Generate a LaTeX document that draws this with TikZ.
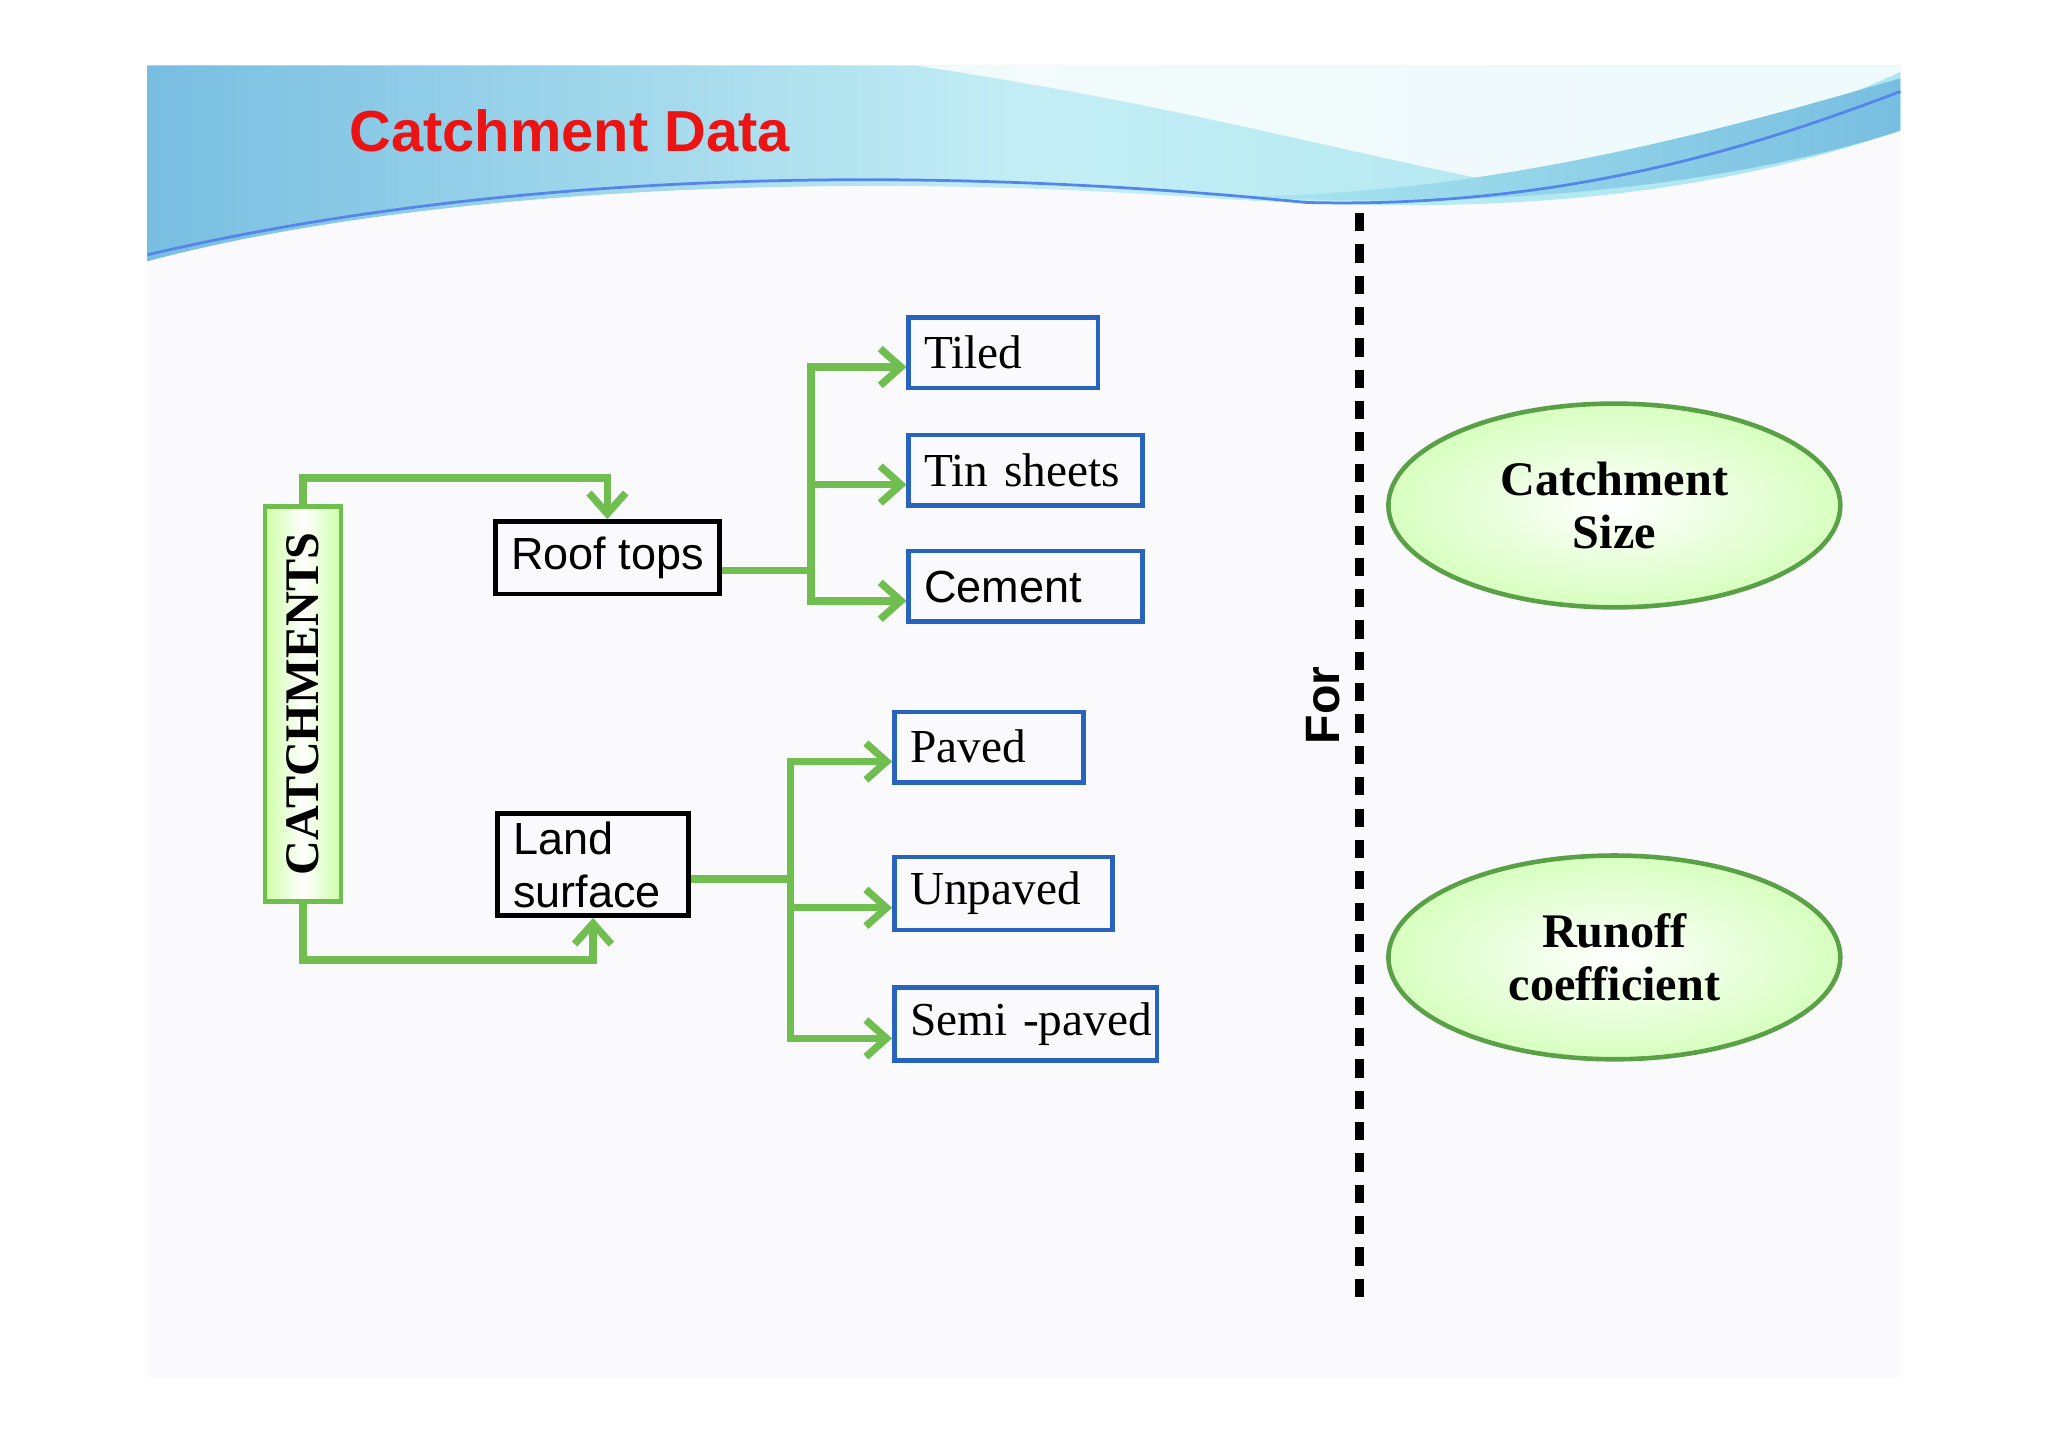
\documentclass[tikz,border=0pt]{standalone}
\usepackage{fontspec}
\setmainfont{Liberation Serif}
\setsansfont{Liberation Sans}
\usetikzlibrary{positioning,arrows.meta,shapes.geometric}
\definecolor{linkgreen}{RGB}{112,190,80}
\definecolor{boxblue}{RGB}{40,100,190}
\definecolor{ovalgreen}{RGB}{90,160,70}
\definecolor{slidebg}{RGB}{250,250,253}
\definecolor{titlered}{RGB}{235,20,20}
\definecolor{wavedeep}{RGB}{120,190,225}
\definecolor{wavelight}{RGB}{170,230,240}
\newlength{\px}
\setlength{\px}{0.01cm}
\tikzset{%
	leaf/.style={
		draw=boxblue,
		line width=1pt,
		rectangle,
		anchor=west,
		inner xsep=12\px,
		text width=#1\px,
		align=left,
		minimum height=54\px,
		text height=7pt,
		font=\fontsize{10.3}{12}\selectfont
	},
	group/.style={
		draw=black,
		line width=1pt,
		rectangle,
		inner xsep=12\px,
		font=\sffamily\fontsize{9.8}{11.5}\selectfont,
		align=left
	},
	oval/.style={
		ellipse,
		draw=ovalgreen,
		line width=1pt,
		minimum width=346\px,
		minimum height=156\px,
		inner color=white,
		outer color=green!50!lime!25,
		font=\bfseries\fontsize{10.5}{11.5}\selectfont,
		align=center
	},
	link/.style={ draw=linkgreen, line width=1.6pt, ->, >={Straight Barb[length=4.5pt,width=8pt]} },
}
\begin{document}
\begin{tikzpicture}[x=0.01cm, y=-0.01cm]
\useasboundingbox (0,0) rectangle (1568,1108);
\fill[white] (0,0) rectangle (1568,1108);
\fill[slidebg] (113,50) rectangle (1455,1055);

% header wave
\shade[left color=wavedeep, right color=wavelight, middle color=wavelight!70]
	(113,50) -- (1455,50) -- (1455,100) .. controls (1250,170) and (1050,160) .. (900,150)
	.. controls (600,130) and (300,150) .. (113,200) -- cycle;
\fill[white, opacity=0.8] (700,50) .. controls (900,80) and (1000,110) .. (1150,140)
	.. controls (1300,120) and (1400,80) .. (1455,55) -- (1455,50) -- cycle;
\shade[left color=wavelight, right color=wavedeep] (950,150) .. controls (1150,150) and (1350,90) .. (1455,60)
	-- (1455,100) .. controls (1300,150) and (1100,160) .. (950,150);
\draw[wavedeep!70!blue, line width=0.6pt] (113,195) .. controls (350,140) and (650,120) .. (1000,155)
	.. controls (1200,160) and (1350,110) .. (1455,70);
\node[anchor=west, text=titlered, font=\sffamily\bfseries\fontsize{12.6}{13}\selectfont] (title) at (255,100) {Catchment Data};

% main boxes
\node[draw=linkgreen, line width=1pt, left color=green!40!lime!35, right color=green!40!lime!35, middle color=white,
	minimum width=302\px, minimum height=58\px, inner sep=0pt, rotate=90, font=\bfseries\fontsize{10.5}{12}\selectfont] (catch) at (232,539) {CATCHMENTS};
\node[group, minimum width=168\px, minimum height=54\px] (roof) at (465,427) {Roof tops};
\node[group, text width=122\px, minimum height=78\px, inner ysep=1pt] (land) at (454,662) {Land\\surface};

% leaves
\node[leaf=121] (tiled) at (694,270) {Tiled};
\node[leaf=155] (tin) at (694,360) {Tin sheets};
\node[leaf=155, font=\sffamily\fontsize{9.8}{12}\selectfont] (cement) at (694,449) {Cement};
\node[leaf=121] (paved) at (683,572) {Paved};
\node[leaf=143] (unpaved) at (683,684) {Unpaved};
\node[leaf=177] (semi) at (683,784) {\mbox{Semi -paved}};

% connections
\draw[link] (catch.east) |- (465,366) -- (roof.north);
\draw[link] (catch.west) |- (454,735) -- (land.south);
\draw[link, -] ([yshift=-10\px]roof.east) -- (621,437);
\foreach \n in {tiled,tin,cement}
	\draw[link] (621,437) |- ([yshift=-11\px]\n.west);
\draw[link, -] ([yshift=-11\px]land.east) -- (605,673);
\foreach \n in {paved,unpaved,semi}
	\draw[link] (605,673) |- ([yshift=-11\px]\n.west);

% divider
\draw[line width=2pt, dash pattern=on 14\px off 10\px] (1041,163) -- (1041,1000);
\node[rotate=90, font=\sffamily\bfseries\fontsize{10.5}{12}\selectfont] (for) at (1013,540) {For};

% targets
\node[oval] (size) at (1236,387) {Catchment\\Size};
\node[oval] (runoff) at (1236,733) {Runoff\\coefficient};
\end{tikzpicture}
\end{document}
